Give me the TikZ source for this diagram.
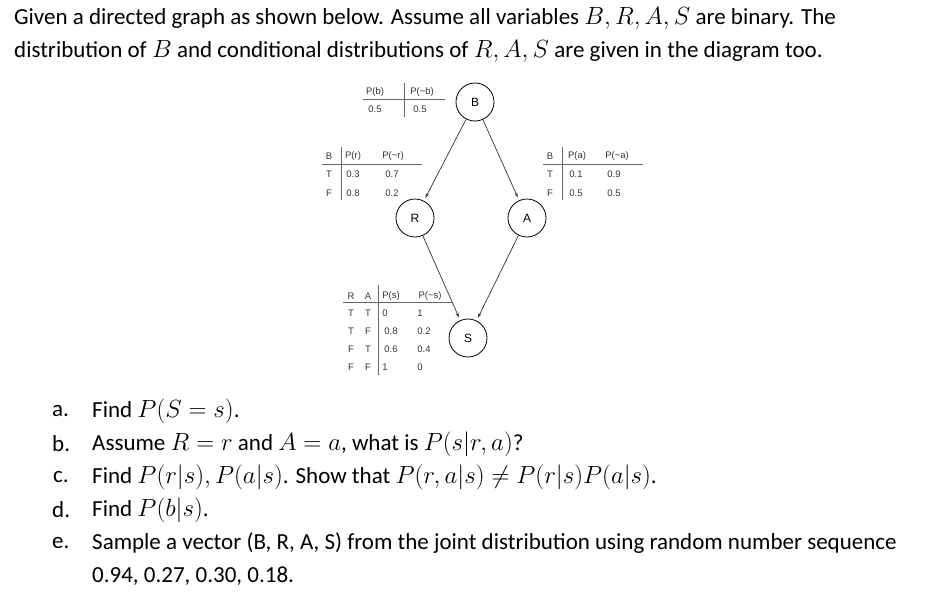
\documentclass[tikz,border=0pt]{standalone}
\usepackage{fontspec}
\setmainfont{Carlito}
\newfontfamily\diag{Liberation Sans}
\usetikzlibrary{arrows.meta}
\begin{document}
\begin{tikzpicture}[x=1pt,y=-1pt,
  var/.style={circle,draw,line width=0.8pt,minimum size=38pt,inner sep=0pt,font=\diag\fontsize{12}{14}\selectfont},
  tt/.style={inner sep=0pt,font=\diag\fontsize{9.5}{11}\selectfont\color{black!80}},
  rule/.style={draw=black!60,line width=0.6pt},
  edge/.style={-{Stealth[length=5pt,width=3pt]},line width=0.7pt,draw=black!80},
  q/.style={anchor=west,inner sep=0pt,font=\fontsize{23}{26}\selectfont}]
\useasboundingbox (0,0) rectangle (933,608);
% header
\node[q] (h1) at (14,18) {Given a directed graph as shown below. Assume all variables $B,R,A,S$ are binary. The};
\node[q] (h2) at (14,51) {distribution of $B$ and conditional distributions of $R,A,S$ are given in the diagram too.};
% nodes
\node[var] (B) at (475,102) {B};
\node[var] (R) at (415,218) {R};
\node[var] (A) at (527,218) {A};
\node[var] (S) at (468,338) {S};
\draw[edge,shorten >=3pt] (B) -- (R);
\draw[edge,shorten >=3pt] (B) -- (A);
\draw[edge,shorten >=3pt] (R) -- (S);
\draw[edge,shorten >=3pt] (A) -- (S);
% table B
\foreach \t/\x/\y in {P(b)/375/92, P(\textasciitilde b)/422/92, 0.5/375/109, 0.5/420/109}
  \node[tt] at (\x,\y) {\t};
\coordinate (b1) at (363,99); \coordinate (b2) at (445,99);
\coordinate (b3) at (404,83); \coordinate (b4) at (404,117);
\draw[rule] (b1) -- (b2); \draw[rule] (b3) -- (b4);
% table R
\foreach \t/\x/\y in {B/329/156, P(r)/353/156, P(\textasciitilde r)/393/156,
  T/329/174, 0.3/353/174, 0.7/392/174, F/329/193, 0.8/353/193, 0.2/392/193}
  \node[tt] at (\x,\y) {\t};
\coordinate (r1) at (322,164); \coordinate (r2) at (422,164);
\coordinate (r3) at (341,147); \coordinate (r4) at (341,200);
\draw[rule] (r1) -- (r2); \draw[rule] (r3) -- (r4);
% table A
\foreach \t/\x/\y in {B/550/156, P(a)/577/156, P(\textasciitilde a)/617/156,
  T/550/174, 0.1/576/174, 0.9/614/174, F/550/193, 0.5/576/193, 0.5/614/193}
  \node[tt] at (\x,\y) {\t};
\coordinate (a1) at (543,164); \coordinate (a2) at (643,164);
\coordinate (a3) at (562,147); \coordinate (a4) at (562,200);
\draw[rule] (a1) -- (a2); \draw[rule] (a3) -- (a4);
% table S
\foreach \t/\x/\y in {R/351/296, A/368/296, P(s)/391/296, P(\textasciitilde s)/430/296,
  T/351/313, T/368/313, 0/385/313, 1/420/313,
  T/351/331, F/368/331, 0.8/391/331, 0.2/424/331,
  F/351/349, T/368/349, 0.6/391/349, 0.4/424/349,
  F/351/367, F/368/367, 1/385/367, 0/420/367}
  \node[tt] at (\x,\y) {\t};
\coordinate (s1) at (343,302); \coordinate (s2) at (452,302);
\coordinate (s3) at (378,285); \coordinate (s4) at (378,375);
\draw[rule] (s1) -- (s2); \draw[rule] (s3) -- (s4);
% questions
\node[q] (la) at (52,411) {a.}; \node[q] (qa) at (92,411) {Find $P(S=s)$.};
\node[q] (lb) at (52,444) {b.}; \node[q] (qb) at (92,444) {Assume $R=r$ and $A=a$, what is $P(s|r,a)$?};
\node[q] (lc) at (53,477) {c.}; \node[q] (qc) at (92,477) {Find $P(r|s),P(a|s)$. Show that $P(r,a|s)\neq P(r|s)P(a|s)$.};
\node[q] (ld) at (52,510) {d.}; \node[q] (qd) at (92,510) {Find $P(b|s)$.};
\node[q] (le) at (52,543) {e.}; \node[q] (qe) at (92,543) {Sample a vector (B, R, A, S) from the joint distribution using random number sequence};
\node[q] (qf) at (92,576) {0.94, 0.27, 0.30, 0.18.};
\end{tikzpicture}
\end{document}
